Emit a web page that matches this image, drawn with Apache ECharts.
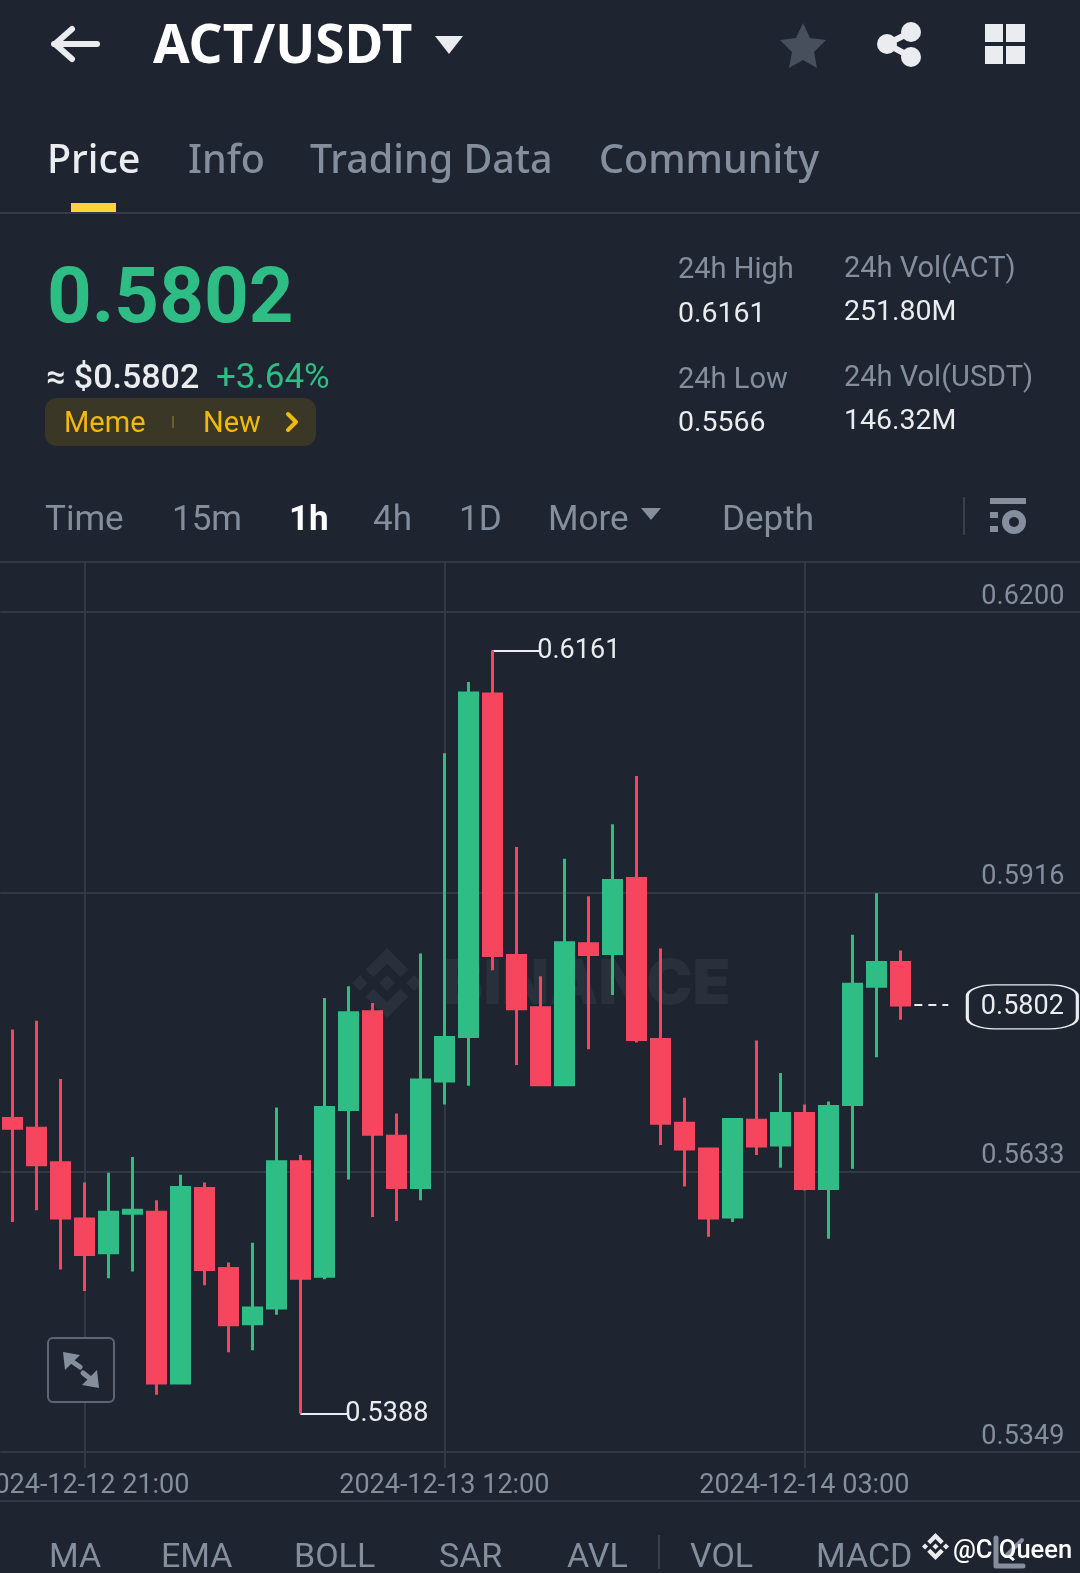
<!DOCTYPE html>
<html>
<head>
<meta charset="utf-8">
<title>ACT/USDT</title>
<script src="https://cdn.jsdelivr.net/npm/echarts@6/dist/echarts.min.js"></script>
<style>
  html, body { margin: 0; padding: 0; background: #1e2530; }
  #main { width: 1080px; height: 1573px; }
</style>
</head>
<body>
<div id="main"></div>
<script>
// 小时K线，时间轴右边留空
const times = [
  '2024-12-12 18:00', '2024-12-12 19:00', '2024-12-12 20:00', '2024-12-12 21:00', '2024-12-12 22:00',
  '2024-12-12 23:00', '2024-12-13 00:00', '2024-12-13 01:00', '2024-12-13 02:00', '2024-12-13 03:00',
  '2024-12-13 04:00', '2024-12-13 05:00', '2024-12-13 06:00', '2024-12-13 07:00', '2024-12-13 08:00',
  '2024-12-13 09:00', '2024-12-13 10:00', '2024-12-13 11:00', '2024-12-13 12:00', '2024-12-13 13:00',
  '2024-12-13 14:00', '2024-12-13 15:00', '2024-12-13 16:00', '2024-12-13 17:00', '2024-12-13 18:00',
  '2024-12-13 19:00', '2024-12-13 20:00', '2024-12-13 21:00', '2024-12-13 22:00', '2024-12-13 23:00',
  '2024-12-14 00:00', '2024-12-14 01:00', '2024-12-14 02:00', '2024-12-14 03:00', '2024-12-14 04:00',
  '2024-12-14 05:00', '2024-12-14 06:00', '2024-12-14 07:00', '2024-12-14 08:00', '2024-12-14 09:00',
  '2024-12-14 10:00', '2024-12-14 11:00', '2024-12-14 12:00', '2024-12-14 13:00', '2024-12-14 14:00'
]
const opens = [
  0.5687, 0.5677, 0.5642, 0.5585, 0.5551, 0.5591, 0.5592, 0.5419, 0.5616, 0.5535,
  0.5479, 0.5495, 0.5643, 0.5527, 0.5696, 0.5795, 0.5669, 0.5617, 0.5725, 0.5770,
  0.6117, 0.5852, 0.5799, 0.5721, 0.5864, 0.5854, 0.5930, 0.5767, 0.5682, 0.5656,
  0.5587, 0.5685, 0.5660, 0.5692, 0.5616, 0.5701, 0.5821, 0.5845
]
const closes = [
  0.5677, 0.5640, 0.5586, 0.5549, 0.5592, 0.5594, 0.5419, 0.5617, 0.5534, 0.5478,
  0.5495, 0.5643, 0.5525, 0.5698, 0.5794, 0.5671, 0.5617, 0.5726, 0.5769, 0.6118,
  0.5852, 0.5798, 0.5721, 0.5865, 0.5853, 0.5928, 0.5767, 0.5682, 0.5656, 0.5586,
  0.5686, 0.5659, 0.5692, 0.5616, 0.5699, 0.5823, 0.5845, 0.5802
]
const lows = [
  0.5582, 0.5594, 0.5534, 0.5512, 0.5525, 0.5532, 0.5407, 0.5418, 0.5518, 0.5450,
  0.5452, 0.5488, 0.5388, 0.5524, 0.5625, 0.5587, 0.5583, 0.5604, 0.5701, 0.5720,
  0.5837, 0.5741, 0.5720, 0.5721, 0.5757, 0.5812, 0.5764, 0.5660, 0.5618, 0.5567,
  0.5582, 0.5650, 0.5637, 0.5614, 0.5565, 0.5636, 0.5749, 0.5787
]
const highs = [
  0.5777, 0.5786, 0.5727, 0.5622, 0.5632, 0.5648, 0.5604, 0.5630, 0.5622, 0.5541,
  0.5561, 0.5698, 0.5650, 0.5809, 0.5821, 0.5804, 0.5692, 0.5854, 0.6057, 0.6129,
  0.6161, 0.5962, 0.5831, 0.5950, 0.5912, 0.5985, 0.6034, 0.5859, 0.5708, 0.5656,
  0.5686, 0.5766, 0.5733, 0.5701, 0.5704, 0.5873, 0.5915, 0.5857
]
const yTicks = [0.5349, 0.5633, 0.5916, 0.62]
const lastPrice = 0.5802
const highPrice = 0.6161
const lowPrice = 0.5388

const stats = [
  ['24h High', '0.6161', 678, 271, 315],
  ['24h Vol(ACT)', '251.80M', 844, 270, 313],
  ['24h Low', '0.5566', 678, 381, 424],
  ['24h Vol(USDT)', '146.32M', 844, 379, 422]
]
const tabs = [['Price', 47], ['Info', 188], ['Trading Data', 310], ['Community', 599]]
const periods = [['Time', 45], ['15m', 172], ['1h', 289], ['4h', 373], ['1D', 459], ['More', 548], ['Depth', 722]]
const indicators = [['MA', 49], ['EMA', 161], ['BOLL', 294], ['SAR', 439], ['AVL', 567], ['VOL', 690], ['MACD', 816]]

const UP = '#2ebd85'
const DOWN = '#f6465d'
const BG = '#1e2530'
const GRID = '#323943'
const GREY = '#848e9c'
const WHITE = '#eaecef'
const PLEX = '"Noto Sans", sans-serif'
const NUM = 'Roboto, sans-serif'

// 币安图标，24x24
const LOGO = [
  [[12, 0], [19.34, 7.34], [16.62, 10.06], [12, 5.42], [7.36, 10.06], [4.64, 7.34]],
  [[12, 24], [19.34, 16.66], [16.62, 13.94], [12, 18.58], [7.36, 13.94], [4.64, 16.66]],
  [[12, 9.28], [14.72, 12], [12, 14.72], [9.28, 12]],
  [[2.72, 9.28], [5.41, 12], [2.72, 14.69], [0, 12]],
  [[21.28, 9.28], [24, 12], [21.28, 14.72], [18.57, 12]]
]

// 画文字
function txt(x, y, text, size, color, opt) {
  opt = opt || {}
  return {
    type: 'text',
    x, y,
    z: opt.z || 10,
    style: {
      text,
      fill: color,
      fontSize: size,
      fontFamily: opt.font || NUM,
      fontWeight: opt.weight || 400,
      align: opt.align || 'left',
      verticalAlign: 'middle'
    }
  }
}
function hline(y, x1, x2, color, width) {
  return { type: 'line', z: 1, shape: { x1, y1: y, x2, y2: y }, style: { stroke: color, lineWidth: width || 2 } }
}
function poly(points, color) {
  return { type: 'polygon', z: 10, shape: { points }, style: { fill: color } }
}
function stroke(points, color, width) {
  return { type: 'polyline', z: 10, shape: { points }, style: { stroke: color, lineWidth: width, fill: null, lineCap: 'round', lineJoin: 'round' } }
}
function box(x, y, w, h, color, r) {
  return { type: 'rect', z: 10, shape: { x, y, width: w, height: h, r: r || 0 }, style: { fill: color } }
}
function dot(cx, cy, r, color) {
  return { type: 'circle', z: 10, shape: { cx, cy, r }, style: { fill: color } }
}
function logo(x, y, size, color, z) {
  const k = size / 24
  return LOGO.map(part => ({
    type: 'polygon', z,
    shape: { points: part.map(p => [x + p[0] * k, y + p[1] * k]) },
    style: { fill: color }
  }))
}

// 页面顶部和底部（图表以外的内容）
function buildChrome() {
  const g = []
  // 顶栏
  g.push(stroke([[54, 44], [97, 44]], WHITE, 6))
  g.push(stroke([[72, 29], [55, 44], [72, 59]], WHITE, 6))
  g.push(txt(153, 48, 'ACT/USDT', 53, '#ffffff', { font: PLEX, weight: 700 }))
  g.push(poly([[435, 36], [463, 36], [449, 54]], WHITE))
  g.push(poly([[803, 23], [810, 38], [826, 40], [814, 52], [817, 68], [803, 60], [789, 68], [792, 52], [780, 40], [796, 38]], '#474f5c'))
  g.push(stroke([[887, 44], [911, 32]], WHITE, 6))
  g.push(stroke([[887, 44], [911, 57]], WHITE, 6))
  g.push(dot(887, 44, 10, WHITE), dot(911, 32, 10, WHITE), dot(911, 57, 10, WHITE))
  g.push(box(985, 24, 18, 18, WHITE), box(1006, 24, 19, 18, WHITE), box(985, 46, 18, 18, WHITE), box(1006, 46, 19, 18, WHITE))

  // 标签页
  tabs.forEach((t, i) => {
    g.push(txt(t[1], 162, t[0], 39.5, i === 0 ? WHITE : GREY, { font: PLEX, weight: 500 }))
  })
  g.push(box(71, 203, 45, 9, '#fcd535'))
  g.push(hline(213, 0, 1080, '#363c47', 2))

  // 价格区
  g.push(txt(47, 302, lastPrice.toFixed(4), 78, UP, { weight: 700 }))
  g.push(txt(46, 379, '≈ $0.5802', 34, WHITE, { weight: 500 }))
  g.push(txt(216, 379, '+3.64%', 35, UP))
  g.push(box(45, 398, 271, 48, '#3b3727', 12))
  g.push(txt(64, 425, 'Meme', 29, '#f0b90b'))
  g.push(txt(203, 425, 'New', 29, '#f0b90b'))
  g.push(box(172, 416, 2, 12, '#6b5f2a'))
  g.push(stroke([[288, 414], [296, 422], [288, 430]], '#f0b90b', 4))
  stats.forEach(s => {
    g.push(txt(s[2], s[3], s[0], 29, GREY))
    g.push(txt(s[2], s[4], s[1], 28.5, WHITE))
  })

  // 周期栏
  periods.forEach(p => {
    const on = p[0] === '1h'
    g.push(txt(p[1], 521, p[0], 35, on ? '#ffffff' : GREY, { weight: on ? 700 : 400 }))
  })
  g.push(poly([[641, 508], [661, 508], [651, 520]], GREY))
  g.push(box(963, 497, 2, 38, '#3a414c'))
  g.push(box(990, 498, 36, 6, GREY), box(990, 512, 8, 6, GREY), box(990, 526, 8, 6, GREY))
  g.push(dot(1014, 522, 12, GREY), dot(1014, 522, 5, BG))
  g.push(hline(562, 0, 1080, GRID, 2))

  // 时间轴下方分割线
  g.push(hline(1501, 0, 1080, GRID, 2))

  // 水印
  g.push(...logo(352, 948, 70, '#2a303b', 1))
  g.push(txt(442, 985, 'BINANCE', 62, '#2a303b', { z: 1, weight: 900, font: 'Inter, sans-serif' }))

  // 放大按钮
  g.push({
    type: 'rect', z: 10,
    shape: { x: 48, y: 1338, width: 66, height: 64, r: 5 },
    style: { fill: BG, stroke: '#5e6673', lineWidth: 2 }
  })
  g.push(poly([[63, 1352], [80, 1355], [65, 1370]], GREY))
  g.push(stroke([[70, 1360], [80, 1367]], GREY, 5))
  g.push(poly([[99, 1388], [82, 1385], [97, 1370]], GREY))
  g.push(stroke([[92, 1380], [83, 1373]], GREY, 5))

  // 底部指标
  indicators.forEach(n => {
    g.push(txt(n[1], 1558, n[0], 34, GREY))
  })
  g.push(box(658, 1535, 2, 34, '#3a414c'))
  g.push(stroke([[996, 1538], [996, 1566], [1023, 1566]], GREY, 5))
  g.push(stroke([[1006, 1556], [1022, 1540]], GREY, 4))
  g.push(...logo(922, 1533, 27, WHITE, 12))
  g.push(txt(953, 1552, '@C Queen', 25.5, '#ffffff', { z: 12, weight: 500 }))
  return g
}

const myChart = echarts.init(document.querySelector('#main'), null, { renderer: 'canvas' })

const option = {
  backgroundColor: BG,
  animation: false,
  graphic: buildChrome(),
  grid: { left: 0.33, top: 562, width: 1080, height: 906, containLabel: false, outerBoundsMode: 'none' },
  xAxis: {
    type: 'category',
    data: times,
    boundaryGap: true,
    axisLine: { show: false },
    axisTick: { show: false, alignWithLabel: true },
    axisLabel: {
      interval: i => i % 15 === 3,
      margin: 5,
      color: GREY,
      fontSize: 27,
      fontFamily: NUM,
      hideOverlap: false
    },
    splitLine: {
      show: true,
      alignWithLabel: true,
      interval: i => i % 15 === 3,
      lineStyle: { color: GRID, width: 2 }
    }
  },
  yAxis: {
    type: 'value',
    position: 'right',
    min: 0.53328,
    max: 0.62507,
    axisLine: { show: false },
    axisTick: { show: false, customValues: yTicks },
    axisLabel: {
      customValues: yTicks,
      inside: true,
      margin: 16,
      color: GREY,
      fontSize: 27,
      fontFamily: NUM,
      lineHeight: 30,
      verticalAlign: 'bottom',
      showMinLabel: true,
      showMaxLabel: true,
      formatter: v => Number(v).toFixed(4)
    },
    splitLine: { show: true, lineStyle: { color: GRID, width: 2 } }
  },
  series: [
    {
      type: 'candlestick',
      barWidth: 19,
      data: opens.map((o, i) => [o, closes[i], lows[i], highs[i]]),
      itemStyle: {
        color: UP,
        color0: DOWN,
        borderColor: UP,
        borderColor0: DOWN,
        borderWidth: 3
      },
      markLine: {
        silent: true,
        z: 1,
        symbol: 'none',
        lineStyle: { color: WHITE, width: 2, type: 'solid' },
        label: {
          position: 'end',
          distance: 0,
          offset: [-3, 1],
          color: WHITE,
          fontSize: 27,
          fontFamily: NUM,
          formatter: p => Number(p.data.price).toFixed(4)
        },
        data: [
          [{ coord: [20, highPrice], price: highPrice }, { coord: [22, highPrice] }],
          [{ coord: [12, lowPrice], price: lowPrice }, { coord: [14, lowPrice] }],
          [
            {
              coord: [37, lastPrice],
              lineStyle: { color: WHITE, width: 2, type: [8, 6] },
              label: { show: false }
            },
            { coord: [39, lastPrice] }
          ]
        ]
      },
      markPoint: {
        silent: true,
        symbol: 'roundRect',
        symbolSize: [110, 44],
        symbolOffset: [2, 2],
        itemStyle: { color: BG, borderColor: WHITE, borderWidth: 2 },
        label: {
          color: WHITE,
          fontSize: 27,
          fontFamily: NUM,
          formatter: () => lastPrice.toFixed(4)
        },
        data: [{ coord: [42, lastPrice] }]
      }
    }
  ]
}

myChart.setOption(option)
</script>
</body>
</html>
